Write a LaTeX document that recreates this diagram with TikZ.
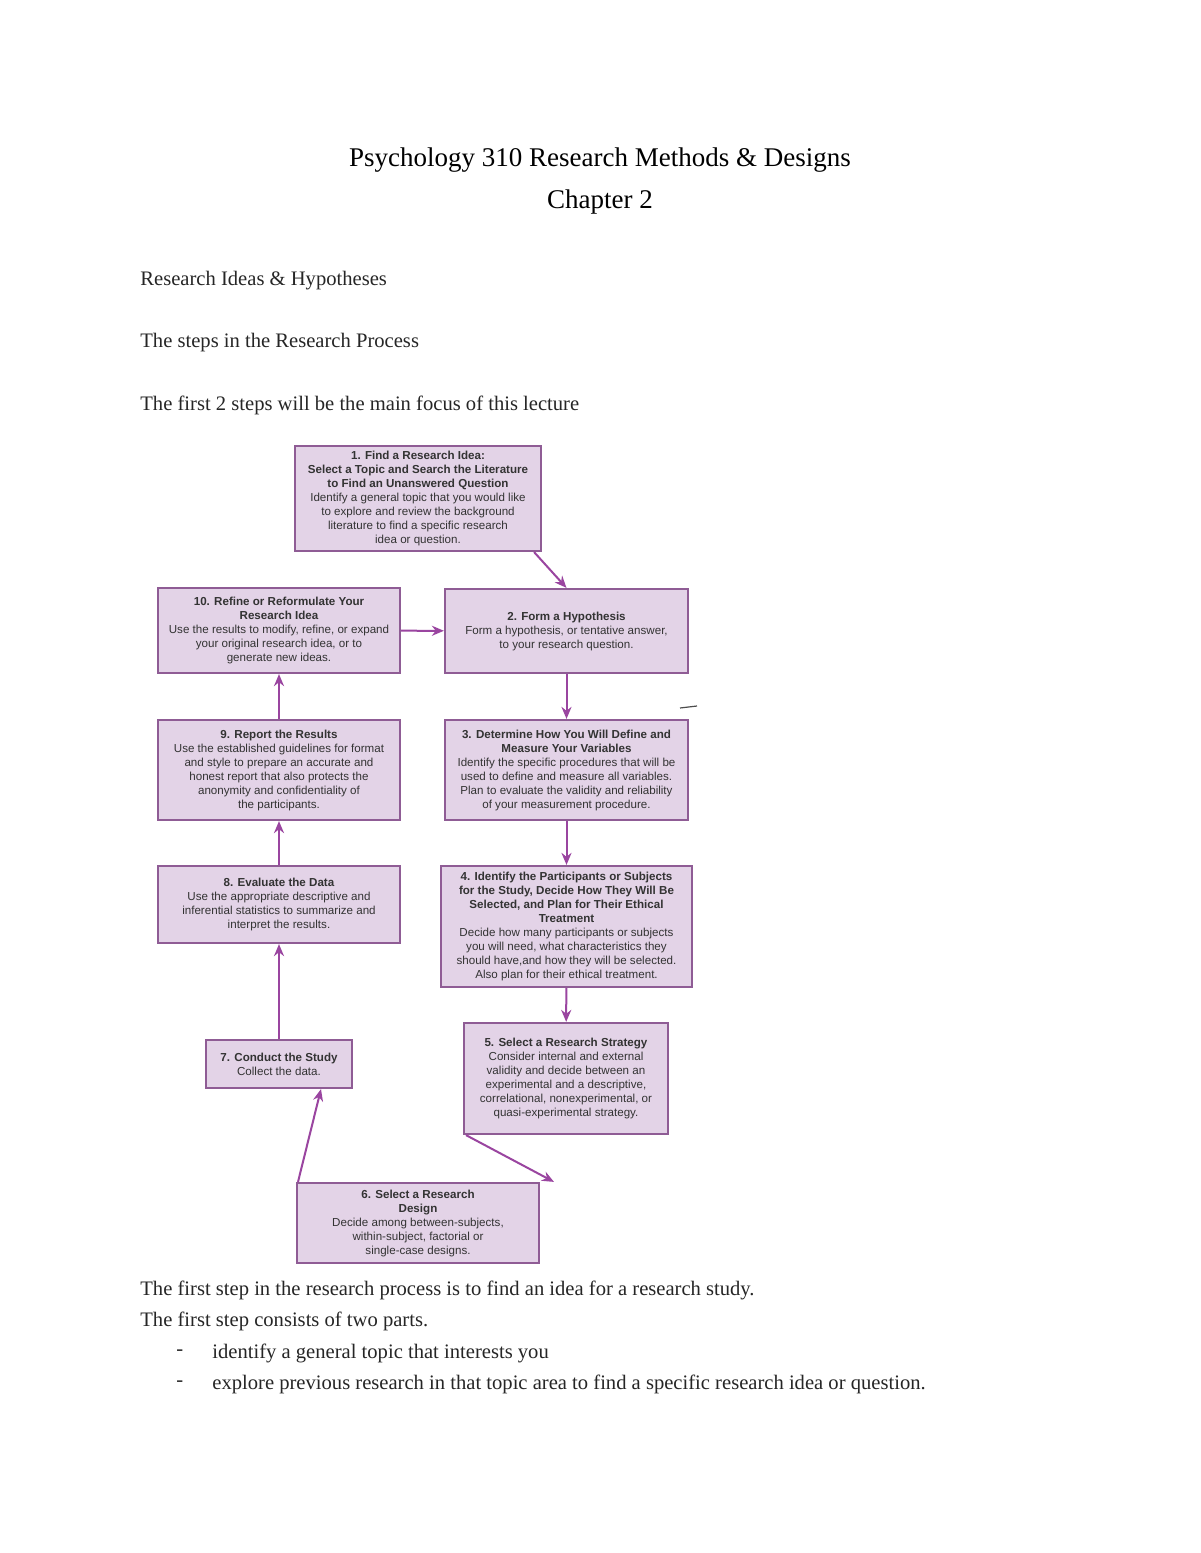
\documentclass[tikz,border=0pt]{standalone}
\usepackage{fontspec}
\setmainfont{Liberation Serif}
\newfontfamily\boxfont{Liberation Sans}
\usetikzlibrary{arrows.meta}
\definecolor{bfill}{HTML}{E3D3E7}
\definecolor{bdraw}{HTML}{8F5C95}
\definecolor{arr}{HTML}{9A45A0}
\begin{document}
\begin{tikzpicture}[x=0.5pt,y=-0.5pt,
  stepbox/.style={draw=bdraw,line width=1.1pt,fill=bfill,inner sep=0pt,align=center,
    font=\boxfont\fontsize{5.8}{7}\selectfont,text=black!80},
  conn/.style={draw=arr,line width=1pt,-{Stealth[length=6pt,width=5pt]}},
  body/.style={anchor=west,inner sep=0pt,font=\fontsize{10.3}{12}\selectfont,text=black!85}]
\useasboundingbox (0,0) rectangle (1200,1553);
\fill[white] (0,0) rectangle (1200,1553);
\node[font=\fontsize{13.5}{16}\selectfont,inner sep=0pt] (t1) at (600,160) {Psychology 310 Research Methods \& Designs};
\node[font=\fontsize{13.5}{16}\selectfont,inner sep=0pt] (t2) at (600,202) {Chapter 2};
\node[body] (l1) at (140,281) {Research Ideas \& Hypotheses};
\node[body] (l2) at (140,343) {The steps in the Research Process};
\node[body] (l3) at (140,405) {The first 2 steps will be the main focus of this lecture};

\node[stepbox,minimum width=123pt,minimum height=52.5pt] (s1) at (418,498.5) {\textbf{1. Find a Research Idea:}\\\textbf{Select a Topic and Search the Literature}\\\textbf{to Find an Unanswered Question}\\Identify a general topic that you would like\\to explore and review the background\\literature to find a specific research\\idea or question.};
\node[stepbox,minimum width=121.5pt,minimum height=42pt] (s2) at (566.5,631) {\textbf{2. Form a Hypothesis}\\Form a hypothesis, or tentative answer,\\to your research question.};
\node[stepbox,minimum width=121pt,minimum height=42.5pt] (s10) at (279,630.5) {\textbf{10. Refine or Reformulate Your}\\\textbf{Research Idea}\\Use the results to modify, refine, or expand\\your original research idea, or to\\generate new ideas.};
\node[stepbox,minimum width=121.5pt,minimum height=50pt] (s3) at (566.5,770) {\textbf{3. Determine How You Will Define and}\\\textbf{Measure Your Variables}\\Identify the specific procedures that will be\\used to define and measure all variables.\\Plan to evaluate the validity and reliability\\of your measurement procedure.};
\node[stepbox,minimum width=121pt,minimum height=50pt] (s9) at (279,770) {\textbf{9. Report the Results}\\Use the established guidelines for format\\and style to prepare an accurate and\\honest report that also protects the\\anonymity and confidentiality of\\the participants.};
\node[stepbox,minimum width=125.5pt,minimum height=60.5pt] (s4) at (566.5,926.5) {\textbf{4. Identify the Participants or Subjects}\\\textbf{for the Study, Decide How They Will Be}\\\textbf{Selected, and Plan for Their Ethical}\\\textbf{Treatment}\\Decide how many participants or subjects\\you will need, what characteristics they\\should have,and how they will be selected.\\Also plan for their ethical treatment.};
\node[stepbox,minimum width=121pt,minimum height=38.5pt] (s8) at (279,904.5) {\textbf{8. Evaluate the Data}\\Use the appropriate descriptive and\\inferential statistics to summarize and\\interpret the results.};
\node[stepbox,minimum width=102pt,minimum height=55.5pt] (s5) at (566,1078.5) {\textbf{5. Select a Research Strategy}\\Consider internal and external\\validity and decide between an\\experimental and a descriptive,\\correlational, nonexperimental, or\\quasi-experimental strategy.};
\node[stepbox,minimum width=73pt,minimum height=24pt] (s7) at (279,1064) {\textbf{7. Conduct the Study}\\Collect the data.};
\node[stepbox,minimum width=121pt,minimum height=40pt] (s6) at (418,1223) {\textbf{6. Select a Research}\\\textbf{Design}\\Decide among between-subjects,\\within-subject, factorial or\\single-case designs.};

\draw[conn] (s1.south east)++(-8,0) -- (s2.north);
\draw[conn] (s10) -- (s2);
\draw[conn] (s2) -- (s3);
\draw[conn] (s3) -- (s4);
\draw[conn] (s4) -- (s5);
\draw[conn] ([xshift=-50]s5.south) -- ([xshift=68]s6.north);
\draw[conn] ([xshift=-60]s6.north) -- ([xshift=21]s7.south);
\draw[conn] (s7) -- (s8);
\draw[conn] (s8) -- (s9);
\draw[conn] (s9) -- (s10);
\coordinate (d1) at (680,708); \coordinate (d2) at (697,706);
\draw[black!70,line width=0.6pt] (d1) -- (d2);

\node[body] (b1) at (140,1290) {The first step in the research process is to find an idea for a research study.};
\node[body] (b2) at (140,1321) {The first step consists of two parts.};
\node[body] (b3d) at (176,1353) {-};
\node[body] (b3) at (212,1353) {identify a general topic that interests you};
\node[body] (b4d) at (176,1384) {-};
\node[body] (b4) at (212,1384) {explore previous research in that topic area to find a specific research idea or question.};
\end{tikzpicture}
\end{document}
